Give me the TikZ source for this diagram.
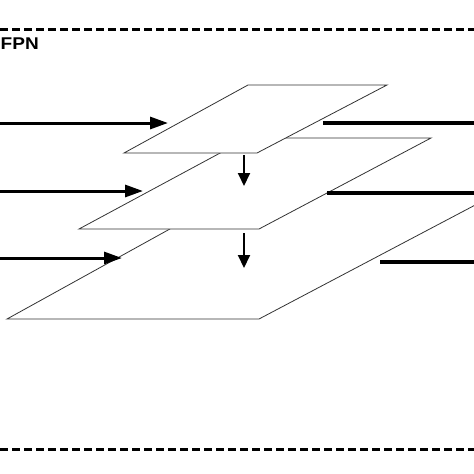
\documentclass[tikz,border=0pt]{standalone}
\usepackage{fontspec}
\setmainfont{Liberation Sans}
\newfontfamily\lblfont[FakeStretch=1.12]{Liberation Sans Bold}
\usetikzlibrary{arrows.meta}
\begin{document}
\begin{tikzpicture}[x=1pt,y=-1pt,
  plane/.style={draw=black!80, line width=0.8pt, fill=white, line join=miter},
  inarrow/.style={line width=3pt, -{Triangle[length=18pt,width=12pt]}},
  downarrow/.style={line width=2pt, -{Triangle[length=13pt,width=12pt]}},
  outline/.style={line width=3.2pt},
  border/.style={line width=3pt, dash pattern=on 8pt off 4pt},
  label/.style={font=\lblfont\fontsize{17}{20}\selectfont, inner sep=0pt, anchor=base west}
]
\clip (0,0) rectangle (474,474);
% dashed borders
\coordinate (tl) at (0,29);
\coordinate (tr) at (474,29);
\coordinate (bl) at (0,449);
\coordinate (br) at (474,449);
\draw[border] (tl) -- (tr);
\draw[border] (bl) -- (br);
\node[label] (fpn) at (0.5,49) {FPN};
% planes (bottom first)
\coordinate (p3a) at (7,319);
\coordinate (p3b) at (259,319);
\coordinate (p3c) at (498,193);
\coordinate (p3d) at (235,193);
\draw[plane] (p3a) -- (p3b) -- (p3c) -- (p3d) -- cycle;
\coordinate (p2a) at (79,229);
\coordinate (p2b) at (259,229);
\coordinate (p2c) at (431,138);
\coordinate (p2d) at (248,138);
\draw[plane] (p2a) -- (p2b) -- (p2c) -- (p2d) -- cycle;
\coordinate (p1a) at (124,153);
\coordinate (p1b) at (257,153);
\coordinate (p1c) at (387,85);
\coordinate (p1d) at (248,85);
\draw[plane] (p1a) -- (p1b) -- (p1c) -- (p1d) -- cycle;
% input arrows
\coordinate (i1s) at (0,123);
\coordinate (i1e) at (168,123);
\coordinate (i2s) at (0,191);
\coordinate (i2e) at (143,191);
\coordinate (i3s) at (0,258);
\coordinate (i3e) at (122,258);
\draw[inarrow] (i1s) -- (i1e);
\draw[inarrow] (i2s) -- (i2e);
\draw[inarrow] (i3s) -- (i3e);
% down arrows
\coordinate (d1s) at (244,155);
\coordinate (d1e) at (244,186);
\coordinate (d2s) at (244,233);
\coordinate (d2e) at (244,268);
\draw[downarrow] (d1s) -- (d1e);
\draw[downarrow] (d2s) -- (d2e);
% output lines
\coordinate (o1s) at (323,123);
\coordinate (o1e) at (474,123);
\coordinate (o2s) at (327,193);
\coordinate (o2e) at (474,193);
\coordinate (o3s) at (380,262);
\coordinate (o3e) at (474,262);
\draw[outline] (o1s) -- (o1e);
\draw[outline] (o2s) -- (o2e);
\draw[outline] (o3s) -- (o3e);
\end{tikzpicture}
\end{document}
